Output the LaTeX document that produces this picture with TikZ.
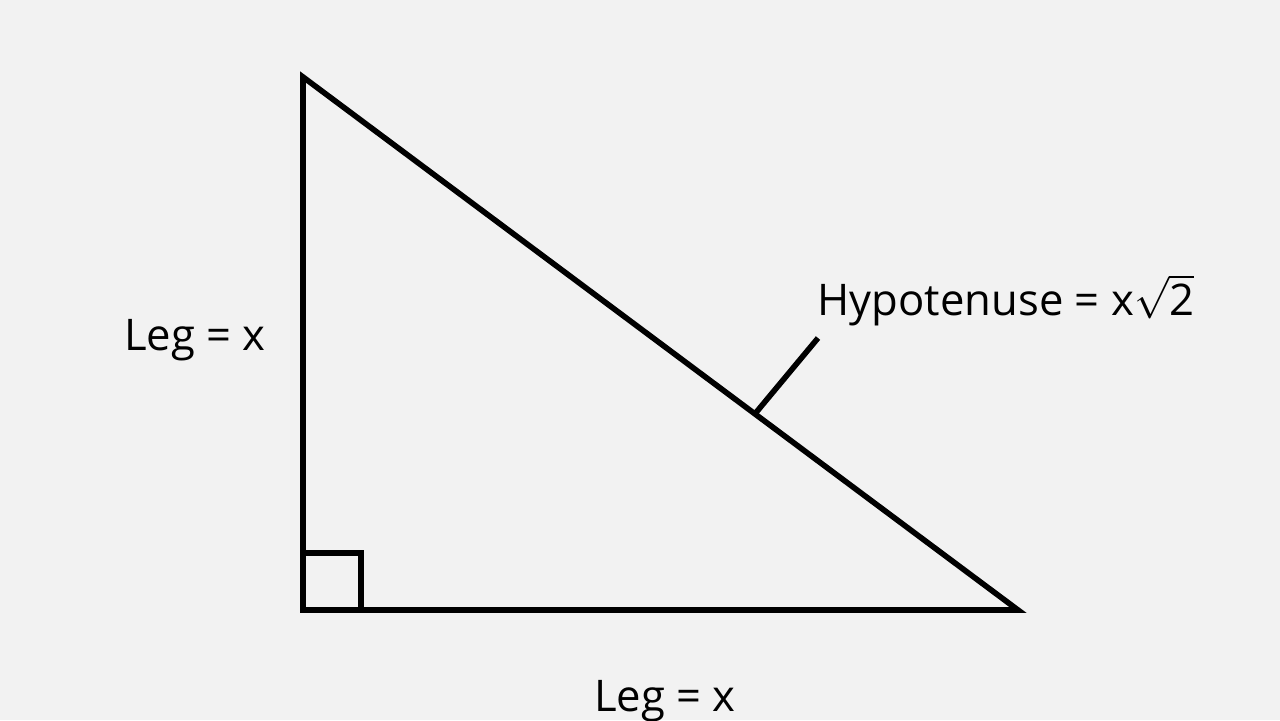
\documentclass[tikz,border=0pt]{standalone}
\usepackage{fontspec}
\setmainfont{Open Sans}
\usetikzlibrary{positioning,calc}
\definecolor{paper}{HTML}{F2F2F2}

\begin{document}
\begin{tikzpicture}[
  x=0.01cm, y=-0.01cm,
  side/.style={draw, line width=1.6pt, line join=miter},
  label/.style={font=\fontsize{12.4}{14}\selectfont, inner sep=0pt},
]
  % Background
  \fill[paper] (0,0) rectangle (1280,720);
  \useasboundingbox (0,0) rectangle (1280,720);

  % Vertices
  \coordinate (top) at (303,77);
  \coordinate (corner) at (303,610);
  \coordinate (tip) at (1018,610);

  % Triangle and right angle mark
  \draw[side] (top) -- (corner) -- (tip) -- cycle;
  \draw[side] ($(corner)+(0,-57)$) -- ++(58,0) -- ++(0,57);

  % Labels
  \node[label, anchor=base] (legleft) at (195,350) {Leg = x};
  \node[label, anchor=base] (legbottom) at (665,711) {Leg = x};
  \node[label, anchor=base west] (hyp) at (817,315) {Hypotenuse = x$\sqrt{\mbox{2}}$};

  % Leader to hypotenuse
  \coordinate (hypfoot) at ($(top)!0.632!(tip)$);
  \coordinate (leaderend) at (818,338);
  \draw[side] (hypfoot) -- (leaderend);
\end{tikzpicture}
\end{document}
